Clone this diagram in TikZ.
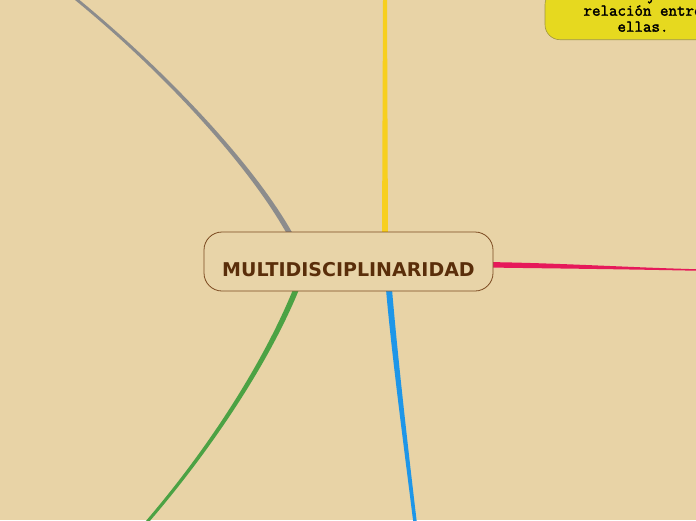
\documentclass[tikz,border=0pt]{standalone}
\usepackage{fontspec}
\usepackage{xcolor}
\usepackage{tikz}
\usetikzlibrary{shapes.geometric, positioning, calc}

\newfontfamily\rootfont{DejaVu Sans}
\newfontfamily\notefont[FakeBold=2]{Latin Modern Mono}

\definecolor{paper}{HTML}{E8D3A6}
\definecolor{rootfill}{HTML}{E8D4A8}
\definecolor{rootline}{HTML}{7B4A20}
\definecolor{roottext}{HTML}{5A2E0A}
\definecolor{notefill}{HTML}{E6D91F}
\definecolor{noteline}{HTML}{A09640}
\definecolor{graybranch}{HTML}{8C8C8C}
\definecolor{yellowbranch}{HTML}{F7CF1F}
\definecolor{pinkbranch}{HTML}{E6195A}
\definecolor{bluebranch}{HTML}{1E96E8}
\definecolor{greenbranch}{HTML}{4CA244}

\pgfdeclarelayer{paperlayer}
\pgfdeclarelayer{branchlayer}
\pgfsetlayers{paperlayer,branchlayer,main}

\tikzset{
  rootbox/.style={draw=rootline, line width=0.8pt, fill=rootfill, rectangle, rounded corners=18pt,
    minimum width=289pt, minimum height=59pt, text height=31pt, text depth=2pt,
    text=roottext, font=\rootfont\bfseries\fontsize{19}{23}\selectfont},
  notebox/.style={draw=noteline, line width=0.6pt, fill=notefill, rectangle, rounded corners=15pt,
    minimum width=196pt, align=center, inner ysep=3pt,
    font=\notefont\fontsize{16.5}{16}\selectfont},
}

\begin{document}
\begin{tikzpicture}[x=1pt, y=-1pt]
\clip (0,0) rectangle (696,520);
\begin{pgfonlayer}{paperlayer}
\fill[paper] (0,0) rectangle (696,520);
\end{pgfonlayer}

% Nodes
\node[rootbox] (root) at (348.5,261.5) {MULTIDISCIPLINARIDAD};
\node[notebox, anchor=south] (note) at (643,40) {\phantom{xx}y\\relación entre\\ellas.\rule[-5pt]{0pt}{1pt}};

% Branches
\begin{pgfonlayer}{branchlayer}
\fill[graybranch] ($(root.north)+(-58.5,8)$) .. controls (252,168) and (163,72) .. (75,0)
  -- (79.5,0) .. controls (167,72) and (258,168) .. ($(root.north)+(-52.5,8)$) -- cycle;
\fill[yellowbranch] ($(root.north)+(33.5,8)$) -- (383,0) -- (387,0) -- ($(root.north)+(39.5,8)$) -- cycle;
\fill[pinkbranch] ($(root.east)+(-8,0.5)$) .. controls (560,263) and (630,267.5) .. (700,269.3)
  -- (700,270.8) .. controls (630,269.3) and (560,268.5) .. ($(root.east)+(-8,6)$) -- cycle;
\fill[bluebranch] ($(root.south)+(37,-8)$) .. controls (391,350) and (403,440) .. (414,528)
  -- (417.5,528) .. controls (407,440) and (397,350) .. ($(root.south)+(43,-8)$) -- cycle;
\fill[greenbranch] ($(root.south)+(-53,-8)$) .. controls (265,361) and (207,450) .. (145,522)
  -- (149,522) .. controls (211,450) and (271,361) .. ($(root.south)+(-47,-8)$) -- cycle;
\end{pgfonlayer}
\end{tikzpicture}
\end{document}
